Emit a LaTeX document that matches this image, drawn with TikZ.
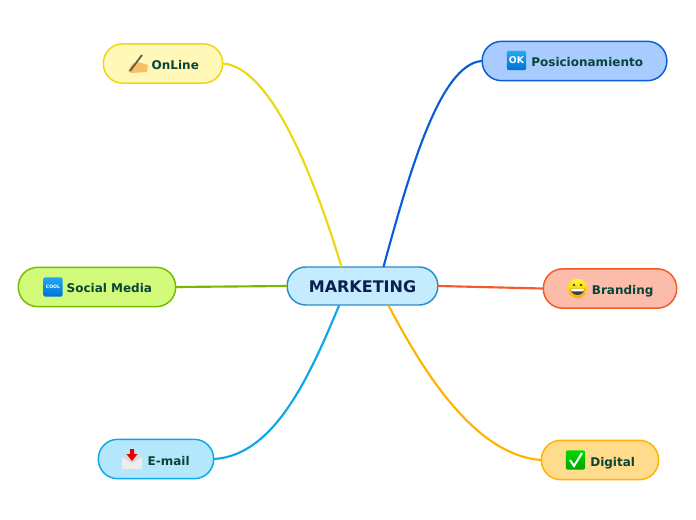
\documentclass[tikz,border=0pt]{standalone}
\usepackage{fontspec}
\setmainfont{DejaVu Sans}
\usetikzlibrary{positioning}

\definecolor{inkcentre}{HTML}{0A2050}
\definecolor{inktopic}{HTML}{0A4438}
\definecolor{edgeonline}{HTML}{EBD80F}
\definecolor{edgepos}{HTML}{0A5CD8}
\definecolor{edgesocial}{HTML}{7DB800}
\definecolor{edgebrand}{HTML}{F55A25}
\definecolor{edgemail}{HTML}{0AA8E8}
\definecolor{edgedigital}{HTML}{FFB300}
\definecolor{edgecentre}{HTML}{2A8CC8}
\definecolor{fillcentre}{HTML}{C5EBFF}
\definecolor{fillonline}{HTML}{FFF8B8}
\definecolor{fillpos}{HTML}{A8CCFF}
\definecolor{fillsocial}{HTML}{D2FB7C}
\definecolor{fillbrand}{HTML}{FBBCAA}
\definecolor{fillmail}{HTML}{B4E6FC}
\definecolor{filldigital}{HTML}{FFDB8C}
\definecolor{tiletop}{HTML}{22A8F0}
\definecolor{tilebottom}{HTML}{0070D8}
\definecolor{handtone}{HTML}{F8C060}

\tikzset{
	centrebox/.style={draw=edgecentre, fill=fillcentre, line width=1.1pt, rounded corners=14pt, minimum width=113pt, minimum height=28.5pt, inner sep=0pt, text=inkcentre, font=\fontsize{12}{14}\bfseries, text height=10pt, text depth=0pt},
	topicbox/.style n args={3}{draw=#1, fill=#2, line width=1.1pt, rounded corners=14.5pt, minimum width=#3, minimum height=29.5pt, inner sep=0pt, text=inktopic, font=\fontsize{9}{10}\bfseries, text height=9pt, text depth=0pt},
	branch/.style={line width=1.6pt, line cap=round},
	bluetile/.style={rounded corners=1.5pt, top color=tiletop, bottom color=tilebottom, minimum size=14.5pt, inner sep=0pt, text=white},
}

\begin{document}
\begin{tikzpicture}[x=0.75pt, y=-0.75pt]
	\useasboundingbox (0,0) rectangle (696,520);
	% boxes
	\node [centrebox] (marketing) at (362.5,286) {MARKETING};
	\node [topicbox={edgeonline}{fillonline}{89.5pt}] (online) at (163,63.5) {\hspace{18.5pt}OnLine};
	\node [topicbox={edgepos}{fillpos}{138.5pt}] (pos) at (574.5,61) {\hspace{19pt}Posicionamiento};
	\node [topicbox={edgesocial}{fillsocial}{118pt}] (social) at (97,287) {\hspace{18.5pt}Social Media};
	\node [topicbox={edgebrand}{fillbrand}{100pt}] (brand) at (610,288.5) {\hspace{19pt}Branding};
	\node [topicbox={edgemail}{fillmail}{86.5pt}] (mail) at (156,459) {\hspace{19pt}E-mail};
	\node [topicbox={edgedigital}{filldigital}{88pt}] (digital) at (600,460) {\hspace{19pt}Digital};
	% branches
	\draw [branch, edgeonline] (online.east) .. controls (272,68) and (315,180) .. (marketing.137);
	\draw [branch, edgepos] (pos.west) .. controls (440,65) and (410,170) .. (marketing.43);
	\draw [branch, edgesocial] (social.east) -- (marketing.west);
	\draw [branch, edgebrand] (marketing.east) -- (brand.west);
	\draw [branch, edgemail] (mail.east) .. controls (275,455) and (310,375) .. (marketing.220);
	\draw [branch, edgedigital] (digital.west) .. controls (480,455) and (430,385) .. (marketing.323);
	% icon OnLine
	\fill [handtone] (128,71) -- (132,64) -- (138,62) -- (148,65) -- (147,72) -- (131,73) -- cycle;
	\draw [line width=1.3pt, black!65] (130,71) -- (142,55);
	% icon Posicionamiento
	\node [bluetile, font=\fontsize{7}{8}\bfseries] (iconok) at (516.5,60.5) {OK};
	% icon Social Media
	\node [bluetile, font=\fontsize{3.5}{4}\bfseries] (iconcool) at (53,287) {COOL};
	% icon Branding
	\node [circle, minimum size=14.5pt, inner sep=0pt, top color=yellow!85!white, bottom color=orange!70!yellow] (iconface) at (577.5,288.5) {};
	\fill [black!75] (574,285) circle (1.3);
	\fill [black!75] (581,285) circle (1.3);
	\fill [black!75] (570.5,289) arc (180:0:7 and 6) -- cycle;
	\fill [white] (571,289) -- (584,289) -- (583.5,291.5) -- (571.5,291.5) -- cycle;
	% icon E-mail
	\fill [black!7] (122,457) -- (132,463) -- (142,457) -- (142,469) -- (122,469) -- cycle;
	\fill [black!15] (122,457) -- (132,450) -- (142,457) -- (132,463) -- cycle;
	\fill [red!90!black] (130,449) -- (134,449) -- (134,454) -- (137.5,454) -- (132,461) -- (126.5,454) -- (130,454) -- cycle;
	% icon Digital
	\node [rounded corners=1.5pt, minimum size=14.5pt, inner sep=0pt, top color=green!85!black, bottom color=green!65!black] (iconcheck) at (575.5,460) {};
	\draw [white, line width=1.5pt] (570,460) -- (574,466) -- (582,453);
\end{tikzpicture}
\end{document}
